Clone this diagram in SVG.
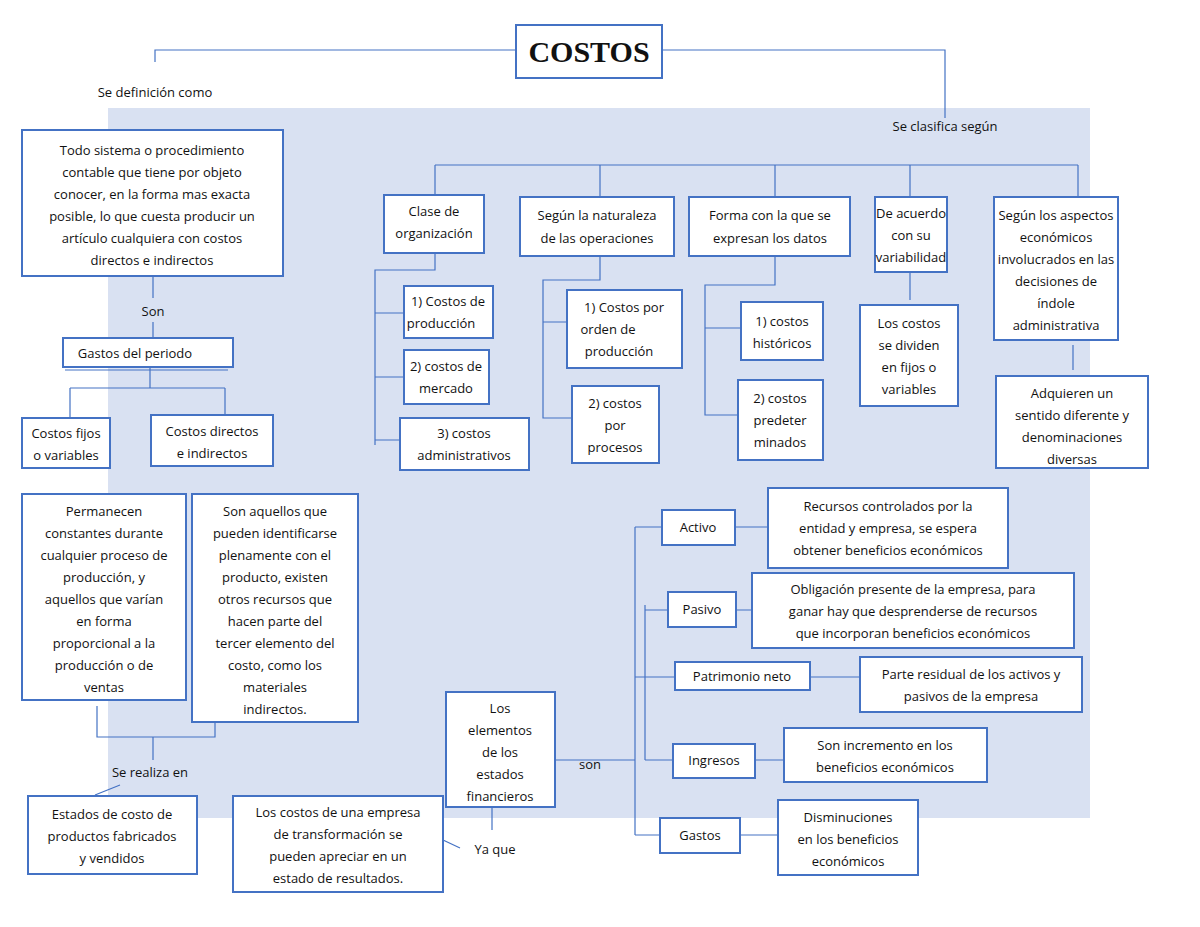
<svg xmlns="http://www.w3.org/2000/svg" width="1200" height="927" viewBox="0 0 1200 927">
<style>
.b{fill:#fff;stroke:#4472c4;stroke-width:2}
.l{fill:none;stroke:#4472c4;stroke-width:1.2}
text{font-family:"Open Sans","Liberation Sans",sans-serif;font-size:13px;fill:#111;text-anchor:middle}
</style>
<rect x="108" y="108" width="982" height="710" fill="#d9e1f2"/>
<g id="connectors" class="l">
<path d="M516 50H155V62M662 50H945V118"/>
<path d="M435 165H1078M435 165V195M600 165V197M775 165V197M910 165V197M1078 165V197"/>
<path d="M435 253V270H375V445M375 313H404M375 377H404M375 440H400"/>
<path d="M600 256V280H543V418H572M543 322H567"/>
<path d="M775 256V285H705V415H738M705 328H741"/>
<path d="M910 272V300"/>
<path d="M1073 345V370"/>
<path d="M153 276V298M153 322V338M150 367V388M65 370H228M70 388H225M70 388V418M225 388V415"/>
<path d="M97 706V737H215V722M153 737V760M120 785L95 795"/>
<path d="M492 807V830M443 840L460 848"/>
<path d="M555 760H635M635 527V835M635 527H662M645 610H668M645 605V760M635 677H675M645 760H673M635 835H660"/>
<path d="M735 527H768M736 610H752M810 677H860M755 760H784M740 835H778"/>
</g>
<g id="costos"><rect class="b" x="516" y="25" width="146" height="53"/><text x="589" y="62" style="font-family:'Liberation Serif',serif;font-size:30px;font-weight:bold">COSTOS</text></g>
<text x="155" y="97">Se definición como</text>
<text x="945" y="131">Se clasifica según</text>
<g id="def"><rect class="b" x="22" y="130" width="261" height="146"/>
<text x="152" y="155">Todo sistema o procedimiento</text><text x="152" y="177">contable que tiene por objeto</text><text x="152" y="199">conocer, en la forma mas exacta</text><text x="152" y="221">posible, lo que cuesta producir un</text><text x="152" y="243">artículo cualquiera con costos</text><text x="152" y="265">directos e indirectos</text></g>
<g id="clase"><rect class="b" x="384" y="195" width="100" height="58"/><text x="434" y="216">Clase de</text><text x="434" y="238">organización</text></g>
<g id="nat"><rect class="b" x="520" y="197" width="154" height="59"/><text x="597" y="220">Según la naturaleza</text><text x="597" y="243">de las operaciones</text></g>
<g id="forma"><rect class="b" x="689" y="197" width="161" height="59"/><text x="770" y="220">Forma con la que se</text><text x="770" y="243">expresan los datos</text></g>
<g id="var"><rect class="b" x="875" y="197" width="72" height="75"/><text x="911" y="218">De acuerdo</text><text x="911" y="240">con su</text><text x="911" y="262">variabilidad</text></g>
<g id="asp"><rect class="b" x="994" y="197" width="124" height="143"/><text x="1056" y="220">Según los aspectos</text><text x="1056" y="242">económicos</text><text x="1056" y="264">involucrados en las</text><text x="1056" y="286">decisiones de</text><text x="1056" y="308">índole</text><text x="1056" y="330">administrativa</text></g>
<g id="c1"><rect class="b" x="404" y="286" width="89" height="52"/><text x="448" y="306">1)  Costos de</text><text x="441" y="328">producción</text></g>
<g id="c2"><rect class="b" x="404" y="350" width="85" height="54"/><text x="446" y="371">2) costos de</text><text x="446" y="393">mercado</text></g>
<g id="c3"><rect class="b" x="400" y="418" width="129" height="52"/><text x="464" y="438">3)  costos</text><text x="464" y="460">administrativos</text></g>
<g id="n1"><rect class="b" x="567" y="290" width="115" height="78"/><text x="624" y="312">1)  Costos por</text><text x="608" y="334">orden de</text><text x="619" y="356">producción</text></g>
<g id="n2"><rect class="b" x="572" y="386" width="87" height="77"/><text x="615" y="408">2) costos</text><text x="615" y="430">por</text><text x="615" y="452">procesos</text></g>
<g id="f1"><rect class="b" x="741" y="302" width="82" height="58"/><text x="782" y="326">1)  costos</text><text x="782" y="348">históricos</text></g>
<g id="f2"><rect class="b" x="738" y="380" width="85" height="80"/><text x="780" y="403">2) costos</text><text x="780" y="425">predeter</text><text x="780" y="447">minados</text></g>
<g id="v1"><rect class="b" x="860" y="305" width="98" height="101"/><text x="909" y="328">Los costos</text><text x="909" y="350">se dividen</text><text x="909" y="372">en fijos o</text><text x="909" y="394">variables</text></g>
<g id="a1"><rect class="b" x="996" y="376" width="152" height="92"/><text x="1072" y="398">Adquieren un</text><text x="1072" y="420">sentido diferente y</text><text x="1072" y="442">denominaciones</text><text x="1072" y="464">diversas</text></g>
<text x="153" y="316">Son</text>
<g id="gastos"><rect class="b" x="63" y="338" width="170" height="29"/><text x="135" y="358">Gastos del periodo</text></g>
<g id="fijos"><rect class="b" x="22" y="418" width="88" height="50"/><text x="66" y="438">Costos fijos</text><text x="66" y="460">o variables</text></g>
<g id="dir"><rect class="b" x="151" y="415" width="122" height="51"/><text x="212" y="436">Costos directos</text><text x="212" y="458">e indirectos</text></g>
<g id="perm"><rect class="b" x="22" y="494" width="164" height="206"/><text x="104" y="516">Permanecen</text><text x="104" y="538">constantes durante</text><text x="104" y="560">cualquier proceso de</text><text x="104" y="582">producción, y</text><text x="104" y="604">aquellos que varían</text><text x="104" y="626">en forma</text><text x="104" y="648">proporcional a la</text><text x="104" y="670">producción o de</text><text x="104" y="692">ventas</text></g>
<g id="aq"><rect class="b" x="192" y="494" width="166" height="228"/><text x="275" y="516">Son aquellos que</text><text x="275" y="538">pueden identificarse</text><text x="275" y="560">plenamente con el</text><text x="275" y="582">producto, existen</text><text x="275" y="604">otros recursos que</text><text x="275" y="626">hacen parte del</text><text x="275" y="648">tercer elemento del</text><text x="275" y="670">costo, como los</text><text x="275" y="692">materiales</text><text x="275" y="714">indirectos.</text></g>
<text x="150" y="777">Se realiza en</text>
<g id="est"><rect class="b" x="28" y="796" width="169" height="78"/><text x="112" y="819">Estados de costo de</text><text x="112" y="841">productos fabricados</text><text x="112" y="863">y vendidos</text></g>
<g id="emp"><rect class="b" x="233" y="796" width="210" height="96"/><text x="338" y="817">Los costos de una empresa</text><text x="338" y="839">de transformación se</text><text x="338" y="861">pueden apreciar en un</text><text x="338" y="883">estado de resultados.</text></g>
<text x="495" y="854">Ya que</text>
<g id="elem"><rect class="b" x="446" y="692" width="109" height="115"/><text x="500" y="713">Los</text><text x="500" y="735">elementos</text><text x="500" y="757">de los</text><text x="500" y="779">estados</text><text x="500" y="801">financieros</text></g>
<text x="590" y="769">son</text>
<g id="activo"><rect class="b" x="662" y="510" width="73" height="35"/><text x="698" y="532">Activo</text></g>
<g id="pasivo"><rect class="b" x="668" y="592" width="68" height="35"/><text x="702" y="614">Pasivo</text></g>
<g id="patr"><rect class="b" x="675" y="662" width="135" height="28"/><text x="742" y="681">Patrimonio neto</text></g>
<g id="ingr"><rect class="b" x="673" y="744" width="82" height="34"/><text x="714" y="765">Ingresos</text></g>
<g id="gas"><rect class="b" x="660" y="818" width="80" height="35"/><text x="700" y="840">Gastos</text></g>
<g id="dact"><rect class="b" x="768" y="488" width="240" height="80"/><text x="888" y="511">Recursos controlados por la</text><text x="888" y="533">entidad y empresa, se espera</text><text x="888" y="555">obtener beneficios económicos</text></g>
<g id="dpas"><rect class="b" x="752" y="573" width="322" height="75"/><text x="913" y="594">Obligación presente de la empresa, para</text><text x="913" y="616">ganar hay que desprenderse de recursos</text><text x="913" y="638">que incorporan beneficios económicos</text></g>
<g id="dpat"><rect class="b" x="860" y="657" width="222" height="55"/><text x="971" y="679">Parte residual de los activos y</text><text x="971" y="701">pasivos de la empresa</text></g>
<g id="ding"><rect class="b" x="784" y="728" width="203" height="54"/><text x="885" y="750">Son incremento en los</text><text x="885" y="772">beneficios económicos</text></g>
<g id="dgas"><rect class="b" x="778" y="800" width="140" height="75"/><text x="848" y="822">Disminuciones</text><text x="848" y="844">en los beneficios</text><text x="848" y="866">económicos</text></g>
</svg>
